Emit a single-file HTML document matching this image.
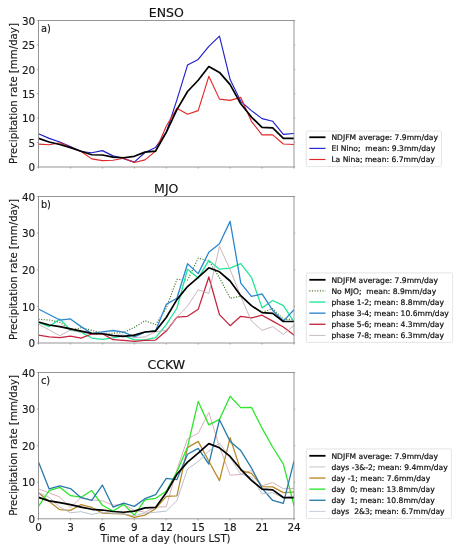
<!DOCTYPE html>
<html lang="en"><head><meta charset="utf-8"><title>Diurnal cycle of precipitation</title>
<style>
html,body{margin:0;padding:0;background:#fff;}
body{width:457px;height:550px;overflow:hidden;}
svg{display:block;font-family:"DejaVu Sans","Liberation Sans",sans-serif;fill:#1a1a1a;}
.t{font-size:10.40px;stroke:#1a1a1a;stroke-width:0.15px}
.l{font-size:7.60px;white-space:pre;fill:#141414;stroke:#141414;stroke-width:0.22px}
.ttl{font-size:12.5px;fill:#111;stroke:#111;stroke-width:0.15px}
</style></head><body>
<svg width="457" height="550" viewBox="0 0 457 550">
<rect width="457" height="550" fill="#fff"/>

<g>
<clipPath id="c0"><rect x="38.50" y="20.50" width="255.50" height="146.50"/></clipPath>
<g clip-path="url(#c0)" fill="none" stroke-linejoin="round" stroke-linecap="butt">
<polyline points="38.50,133.68 49.15,138.38 59.79,142.01 70.44,146.42 81.08,151.52 91.73,152.79 102.38,150.63 113.02,155.88 123.67,158.67 134.31,162.10 144.96,152.45 155.60,147.40 166.25,132.36 176.90,99.87 187.54,65.08 198.19,59.40 208.83,46.46 219.48,36.17 230.12,79.53 240.77,101.34 251.42,110.65 262.06,118.64 272.71,121.28 283.35,134.41 294.00,133.53" stroke="#2020cc" stroke-width="1.15"/>
<polyline points="38.50,144.17 49.15,144.70 59.79,142.75 70.44,147.16 81.08,151.52 91.73,158.87 102.38,160.63 113.02,160.29 123.67,158.23 134.31,162.44 144.96,159.85 155.60,151.07 166.25,126.33 176.90,108.20 187.54,114.32 198.19,110.65 208.83,76.35 219.48,99.13 230.12,100.36 240.77,97.42 251.42,121.28 262.06,134.91 272.71,134.91 283.35,144.02 294.00,144.46" stroke="#e02828" stroke-width="1.15"/>
<polyline points="38.50,138.38 49.15,142.01 59.79,144.46 70.44,147.64 81.08,151.32 91.73,154.75 102.38,155.00 113.02,157.20 123.67,157.74 134.31,156.32 144.96,152.10 155.60,151.07 166.25,132.36 176.90,109.67 187.54,91.54 198.19,80.27 208.83,66.55 219.48,72.43 230.12,84.68 240.77,103.79 251.42,117.02 262.06,127.41 272.71,127.90 283.35,138.43 294.00,138.43" stroke="#000000" stroke-width="1.70"/>
</g>
<rect x="38.50" y="20.50" width="255.50" height="146.50" fill="none" stroke="#8a8a8a" stroke-width="0.9"/>
<text class="t" x="35.15" y="171.25" text-anchor="end">0</text>
<text class="t" x="35.15" y="146.83" text-anchor="end">5</text>
<text class="t" x="35.15" y="122.42" text-anchor="end">10</text>
<text class="t" x="35.15" y="98.00" text-anchor="end">15</text>
<text class="t" x="35.15" y="73.58" text-anchor="end">20</text>
<text class="t" x="35.15" y="49.17" text-anchor="end">25</text>
<text class="t" x="35.15" y="24.75" text-anchor="end">30</text>
<path d="M38.50 167.00h-1.7M294.00 167.00h1.2M38.50 142.58h-1.7M294.00 142.58h1.2M38.50 118.17h-1.7M294.00 118.17h1.2M38.50 93.75h-1.7M294.00 93.75h1.2M38.50 69.33h-1.7M294.00 69.33h1.2M38.50 44.92h-1.7M294.00 44.92h1.2M38.50 20.50h-1.7M294.00 20.50h1.2M38.50 167.00v1.6M70.44 167.00v1.6M102.38 167.00v1.6M134.31 167.00v1.6M166.25 167.00v1.6M198.19 167.00v1.6M230.12 167.00v1.6M262.06 167.00v1.6M294.00 167.00v1.6" stroke="#8a8a8a" stroke-width="0.7" fill="none"/>
<text class="ttl" x="166.25" y="17.30" text-anchor="middle">ENSO</text>
<text class="t" style="font-size:9.8px" x="40.90" y="32.30">a)</text>
<text class="t" style="font-size:10.2px" transform="translate(16.70 93.55) rotate(-90)" text-anchor="middle">Precipitation rate [mm/day]</text>
<rect x="306.30" y="131.00" width="135.20" height="35.60" rx="1.2" fill="#fff" stroke="#dedede" stroke-width="0.8"/>
<path d="M309.30 137.25h16.2" stroke="#000000" stroke-width="1.80" fill="none"/>
<text class="l" xml:space="preserve" x="331.40" y="140.20">NDJFM average: 7.9mm/day</text>
<path d="M309.30 148.37h16.2" stroke="#2020cc" stroke-width="1.15" fill="none"/>
<text class="l" xml:space="preserve" x="331.40" y="151.32">El Nino;  mean: 9.3mm/day</text>
<path d="M309.30 159.49h16.2" stroke="#e02828" stroke-width="1.15" fill="none"/>
<text class="l" xml:space="preserve" x="331.40" y="162.44">La Nina; mean: 6.7mm/day</text>
</g>
<g>
<clipPath id="c1"><rect x="38.50" y="196.50" width="255.50" height="146.50"/></clipPath>
<g clip-path="url(#c1)" fill="none" stroke-linejoin="round" stroke-linecap="butt">
<polyline points="38.50,319.28 49.15,320.02 59.79,322.22 70.44,330.32 81.08,327.74 91.73,330.32 102.38,333.26 113.02,333.26 123.67,332.53 134.31,327.38 144.96,320.75 155.60,324.62 166.25,308.24 176.90,279.35 187.54,280.09 198.19,258.19 208.83,260.77 219.48,277.70 230.12,298.30 240.77,296.10 251.42,305.66 262.06,312.29 272.71,308.61 283.35,319.28 294.00,319.28" stroke="#44782a" stroke-width="1.20" stroke-dasharray="1.1,1.55"/>
<polyline points="38.50,322.33 49.15,326.64 59.79,318.91 70.44,329.95 81.08,332.16 91.73,338.05 102.38,339.34 113.02,337.86 123.67,335.66 134.31,339.89 144.96,339.89 155.60,337.68 166.25,324.62 176.90,308.24 187.54,269.23 198.19,278.06 208.83,260.40 219.48,269.23 230.12,268.13 240.77,263.71 251.42,277.33 262.06,307.87 272.71,300.51 283.35,305.66 294.00,321.86" stroke="#22e696" stroke-width="1.28"/>
<polyline points="38.50,308.98 49.15,314.50 59.79,320.02 70.44,318.91 81.08,326.64 91.73,333.63 102.38,331.79 113.02,330.50 123.67,332.16 134.31,336.94 144.96,332.16 155.60,330.69 166.25,304.38 176.90,298.30 187.54,263.71 198.19,273.65 208.83,252.30 219.48,243.66 230.12,221.39 240.77,283.22 251.42,296.46 262.06,293.89 272.71,310.45 283.35,321.12 294.00,309.71" stroke="#2a86d0" stroke-width="1.28"/>
<polyline points="38.50,335.10 49.15,336.94 59.79,337.68 70.44,336.02 81.08,338.05 91.73,334.00 102.38,333.74 113.02,339.70 123.67,340.40 134.31,341.36 144.96,340.40 155.60,340.04 166.25,331.06 176.90,317.07 187.54,316.34 198.19,309.34 208.83,276.96 219.48,314.68 230.12,325.68 240.77,316.34 251.42,317.99 262.06,315.23 272.71,321.12 283.35,327.01 294.00,335.10" stroke="#c6243e" stroke-width="1.28"/>
<polyline points="38.50,324.06 49.15,329.95 59.79,335.84 70.44,329.95 81.08,332.16 91.73,333.63 102.38,332.90 113.02,335.10 123.67,335.10 134.31,337.68 144.96,336.94 155.60,331.79 166.25,330.32 176.90,317.07 187.54,306.03 198.19,289.84 208.83,293.52 219.48,246.42 230.12,269.60 240.77,296.46 251.42,321.12 262.06,330.32 272.71,326.64 283.35,334.37 294.00,325.35" stroke="#c2aeb8" stroke-width="0.90"/>
<polyline points="38.50,322.00 49.15,324.98 59.79,326.64 70.44,328.85 81.08,331.06 91.73,333.37 102.38,333.74 113.02,335.66 123.67,336.36 134.31,335.10 144.96,331.98 155.60,331.06 166.25,317.44 176.90,299.59 187.54,286.53 198.19,277.33 208.83,267.76 219.48,271.81 230.12,281.01 240.77,295.73 251.42,305.66 262.06,312.66 272.71,313.39 283.35,321.49 294.00,321.49" stroke="#000000" stroke-width="1.70"/>
</g>
<rect x="38.50" y="196.50" width="255.50" height="146.50" fill="none" stroke="#8a8a8a" stroke-width="0.9"/>
<text class="t" x="35.15" y="347.25" text-anchor="end">0</text>
<text class="t" x="35.15" y="310.62" text-anchor="end">10</text>
<text class="t" x="35.15" y="274.00" text-anchor="end">20</text>
<text class="t" x="35.15" y="237.38" text-anchor="end">30</text>
<text class="t" x="35.15" y="200.75" text-anchor="end">40</text>
<path d="M38.50 343.00h-1.7M294.00 343.00h1.2M38.50 306.38h-1.7M294.00 306.38h1.2M38.50 269.75h-1.7M294.00 269.75h1.2M38.50 233.12h-1.7M294.00 233.12h1.2M38.50 196.50h-1.7M294.00 196.50h1.2M38.50 343.00v1.6M70.44 343.00v1.6M102.38 343.00v1.6M134.31 343.00v1.6M166.25 343.00v1.6M198.19 343.00v1.6M230.12 343.00v1.6M262.06 343.00v1.6M294.00 343.00v1.6" stroke="#8a8a8a" stroke-width="0.7" fill="none"/>
<text class="ttl" x="166.25" y="193.30" text-anchor="middle">MJO</text>
<text class="t" style="font-size:9.8px" x="40.90" y="208.30">b)</text>
<text class="t" style="font-size:10.2px" transform="translate(16.70 269.55) rotate(-90)" text-anchor="middle">Precipitation rate [mm/day]</text>
<rect x="306.30" y="272.90" width="146.30" height="69.50" rx="1.2" fill="#fff" stroke="#dedede" stroke-width="0.8"/>
<path d="M309.30 279.80h16.2" stroke="#000000" stroke-width="1.80" fill="none"/>
<text class="l" xml:space="preserve" x="331.40" y="282.75">NDJFM average: 7.9mm/day</text>
<path d="M309.30 290.92h16.2" stroke="#44782a" stroke-width="1.20" fill="none" stroke-dasharray="1.1,1.55"/>
<text class="l" xml:space="preserve" x="331.40" y="293.87">No MJO;  mean: 8.9mm/day</text>
<path d="M309.30 302.04h16.2" stroke="#22e696" stroke-width="1.35" fill="none"/>
<text class="l" xml:space="preserve" x="331.40" y="304.99">phase 1-2; mean: 8.8mm/day</text>
<path d="M309.30 313.16h16.2" stroke="#2a86d0" stroke-width="1.35" fill="none"/>
<text class="l" xml:space="preserve" x="331.40" y="316.11">phase 3-4; mean: 10.6mm/day</text>
<path d="M309.30 324.28h16.2" stroke="#c6243e" stroke-width="1.35" fill="none"/>
<text class="l" xml:space="preserve" x="331.40" y="327.23">phase 5-6; mean: 4.3mm/day</text>
<path d="M309.30 335.40h16.2" stroke="#c2aeb8" stroke-width="0.85" fill="none"/>
<text class="l" xml:space="preserve" x="331.40" y="338.35">phase 7-8; mean: 6.3mm/day</text>
</g>
<g>
<clipPath id="c2"><rect x="38.50" y="372.50" width="255.50" height="146.30"/></clipPath>
<g clip-path="url(#c2)" fill="none" stroke-linejoin="round" stroke-linecap="butt">
<polyline points="38.50,488.92 49.15,492.78 59.79,496.96 70.44,507.82 81.08,497.33 91.73,499.93 102.38,500.85 113.02,505.25 123.67,504.34 134.31,510.39 144.96,512.23 155.60,507.09 166.25,506.72 176.90,469.66 187.54,438.83 198.19,433.32 208.83,412.40 219.48,446.90 230.12,475.16 240.77,474.43 251.42,470.39 262.06,485.80 272.71,482.50 283.35,488.74 294.00,488.37" stroke="#dcb0b8" stroke-width="1.00"/>
<polyline points="38.50,492.78 49.15,501.58 59.79,509.66 70.44,510.39 81.08,504.67 91.73,507.46 102.38,513.07 113.02,513.70 123.67,513.95 134.31,517.37 144.96,515.16 155.60,508.70 166.25,496.45 176.90,495.90 187.54,447.64 198.19,441.40 208.83,461.21 219.48,480.67 230.12,437.73 240.77,470.39 251.42,473.33 262.06,486.54 272.71,486.90 283.35,492.59 294.00,492.23" stroke="#b88a2c" stroke-width="1.28"/>
<polyline points="38.50,506.36 49.15,490.57 59.79,487.27 70.44,495.71 81.08,497.18 91.73,490.57 102.38,505.25 113.02,511.13 123.67,504.34 134.31,515.16 144.96,499.93 155.60,498.28 166.25,491.31 176.90,471.86 187.54,446.90 198.19,401.39 208.83,424.88 219.48,419.38 230.12,396.26 240.77,407.63 251.42,407.27 262.06,428.18 272.71,447.27 283.35,464.15 294.00,505.62" stroke="#2ce62c" stroke-width="1.28"/>
<polyline points="38.50,461.95 49.15,488.92 59.79,485.95 70.44,488.56 81.08,497.66 91.73,500.48 102.38,485.07 113.02,507.09 123.67,503.05 134.31,506.36 144.96,498.65 155.60,494.61 166.25,478.46 176.90,479.56 187.54,454.24 198.19,448.37 208.83,464.15 219.48,419.74 230.12,441.40 240.77,450.57 251.42,467.82 262.06,488.37 272.71,500.48 283.35,503.42 294.00,461.21" stroke="#2779a9" stroke-width="1.28"/>
<polyline points="38.50,492.78 49.15,497.33 59.79,507.09 70.44,512.70 81.08,511.68 91.73,514.43 102.38,512.23 113.02,513.33 123.67,514.06 134.31,515.71 144.96,513.07 155.60,512.23 166.25,511.13 176.90,500.67 187.54,468.92 198.19,461.58 208.83,450.94 219.48,443.05 230.12,457.54 240.77,474.06 251.42,477.00 262.06,493.88 272.71,492.59 283.35,497.91 294.00,496.08" stroke="#acb6c6" stroke-width="0.85"/>
<polyline points="38.50,497.33 49.15,500.85 59.79,502.69 70.44,504.67 81.08,507.09 91.73,509.29 102.38,510.03 113.02,511.49 123.67,512.23 134.31,511.13 144.96,507.82 155.60,507.46 166.25,492.78 176.90,474.24 187.54,462.13 198.19,453.14 208.83,443.60 219.48,447.82 230.12,456.44 240.77,469.29 251.42,480.30 262.06,489.11 272.71,489.84 283.35,497.55 294.00,497.55" stroke="#000000" stroke-width="1.70"/>
</g>
<rect x="38.50" y="372.50" width="255.50" height="146.30" fill="none" stroke="#8a8a8a" stroke-width="0.9"/>
<text class="t" x="35.15" y="523.05" text-anchor="end">0</text>
<text class="t" x="35.15" y="486.47" text-anchor="end">10</text>
<text class="t" x="35.15" y="449.90" text-anchor="end">20</text>
<text class="t" x="35.15" y="413.32" text-anchor="end">30</text>
<text class="t" x="35.15" y="376.75" text-anchor="end">40</text>
<text class="t" x="38.50" y="530.80" text-anchor="middle">0</text>
<text class="t" x="70.44" y="530.80" text-anchor="middle">3</text>
<text class="t" x="102.38" y="530.80" text-anchor="middle">6</text>
<text class="t" x="134.31" y="530.80" text-anchor="middle">9</text>
<text class="t" x="166.25" y="530.80" text-anchor="middle">12</text>
<text class="t" x="198.19" y="530.80" text-anchor="middle">15</text>
<text class="t" x="230.12" y="530.80" text-anchor="middle">18</text>
<text class="t" x="262.06" y="530.80" text-anchor="middle">21</text>
<text class="t" x="294.00" y="530.80" text-anchor="middle">24</text>
<path d="M38.50 518.80h-1.7M294.00 518.80h1.2M38.50 482.22h-1.7M294.00 482.22h1.2M38.50 445.65h-1.7M294.00 445.65h1.2M38.50 409.07h-1.7M294.00 409.07h1.2M38.50 372.50h-1.7M294.00 372.50h1.2M38.50 518.80v1.6M70.44 518.80v1.6M102.38 518.80v1.6M134.31 518.80v1.6M166.25 518.80v1.6M198.19 518.80v1.6M230.12 518.80v1.6M262.06 518.80v1.6M294.00 518.80v1.6" stroke="#8a8a8a" stroke-width="0.7" fill="none"/>
<text class="ttl" x="166.25" y="369.30" text-anchor="middle">CCKW</text>
<text class="t" style="font-size:9.8px" x="40.90" y="384.30">c)</text>
<text class="t" style="font-size:10.2px" transform="translate(16.70 445.45) rotate(-90)" text-anchor="middle">Precipitation rate [mm/day]</text>
<rect x="306.30" y="448.90" width="145.10" height="69.60" rx="1.2" fill="#fff" stroke="#dedede" stroke-width="0.8"/>
<path d="M309.30 455.80h16.2" stroke="#000000" stroke-width="1.80" fill="none"/>
<text class="l" xml:space="preserve" x="331.40" y="458.75">NDJFM average: 7.9mm/day</text>
<path d="M309.30 466.92h16.2" stroke="#dcd0d6" stroke-width="1.35" fill="none"/>
<text class="l" xml:space="preserve" x="331.40" y="469.87">days -3&amp;-2; mean: 9.4mm/day</text>
<path d="M309.30 478.04h16.2" stroke="#b88a2c" stroke-width="1.35" fill="none"/>
<text class="l" xml:space="preserve" x="331.40" y="480.99">day -1; mean: 7.6mm/day</text>
<path d="M309.30 489.16h16.2" stroke="#2ce62c" stroke-width="1.35" fill="none"/>
<text class="l" xml:space="preserve" x="331.40" y="492.11">day  0; mean: 13.8mm/day</text>
<path d="M309.30 500.28h16.2" stroke="#2779a9" stroke-width="1.35" fill="none"/>
<text class="l" xml:space="preserve" x="331.40" y="503.23">day  1; mean: 10.8mm/day</text>
<path d="M309.30 511.40h16.2" stroke="#b4c0d0" stroke-width="0.80" fill="none"/>
<text class="l" xml:space="preserve" x="331.40" y="514.35">days  2&amp;3; mean: 6.7mm/day</text>
</g>
<text class="t" style="font-size:10.1px" x="165.70" y="542.3" text-anchor="middle">Time of a day (hours LST)</text>
</svg>
</body></html>
